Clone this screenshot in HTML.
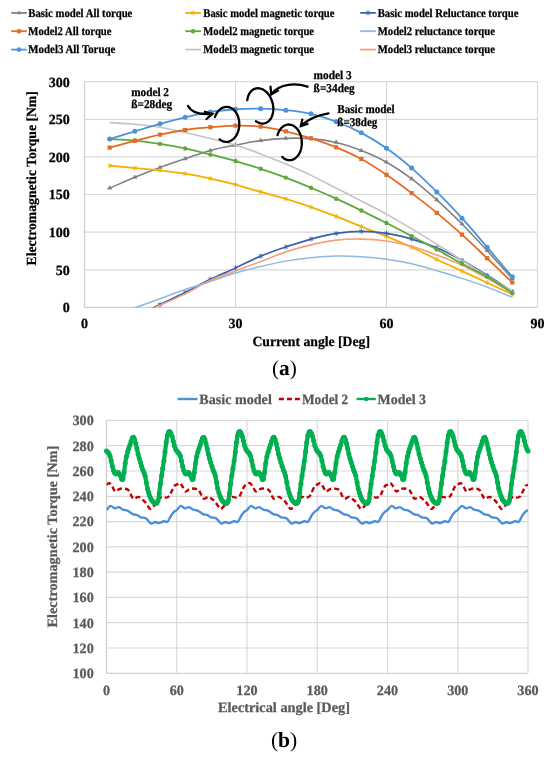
<!DOCTYPE html><html><head><meta charset="utf-8"><style>html,body{margin:0;padding:0;background:#fff;}svg{display:block}text{font-family:"Liberation Serif",serif;font-weight:bold;text-rendering:geometricPrecision;stroke-width:0.25px;}</style></head><body>
<svg width="550" height="761" viewBox="0 0 550 761">
<rect width="550" height="761" fill="#fff"/>
<defs><clipPath id="cpt"><rect x="84.5" y="81.7" width="453.0" height="225.7"/></clipPath>
<clipPath id="cpb"><rect x="106.5" y="420.4" width="421.5" height="252.9"/></clipPath></defs>
<g stroke="#d9d9d9" stroke-width="1.2"><line x1="84.5" y1="269.8" x2="537.5" y2="269.8"/><line x1="84.5" y1="232.2" x2="537.5" y2="232.2"/><line x1="84.5" y1="194.5" x2="537.5" y2="194.5"/><line x1="84.5" y1="156.9" x2="537.5" y2="156.9"/><line x1="84.5" y1="119.3" x2="537.5" y2="119.3"/><line x1="84.5" y1="81.7" x2="537.5" y2="81.7"/><line x1="235.5" y1="81.7" x2="235.5" y2="307.4"/><line x1="386.5" y1="81.7" x2="386.5" y2="307.4"/><line x1="537.5" y1="81.7" x2="537.5" y2="307.4"/></g>
<g stroke="#d0d0d0" stroke-width="1.3"><line x1="84.5" y1="81.7" x2="84.5" y2="307.4"/><line x1="84.5" y1="307.4" x2="537.5" y2="307.4"/></g>
<g><path d="M109.67,188.16 C113.86,186.34 126.44,180.69 134.83,177.25 C143.22,173.80 151.61,170.55 160.00,167.47 C168.39,164.38 176.78,161.57 185.17,158.74 C193.56,155.91 201.94,152.73 210.33,150.46 C218.72,148.19 227.11,146.76 235.50,145.12 C243.89,143.48 252.28,141.74 260.67,140.61 C269.06,139.48 277.44,138.68 285.83,138.35 C294.22,138.02 302.61,137.97 311.00,138.65 C319.39,139.33 327.78,140.43 336.17,142.41 C344.56,144.39 352.94,147.24 361.33,150.54 C369.72,153.84 378.11,157.49 386.50,162.20 C394.89,166.91 403.28,172.56 411.67,178.83 C420.06,185.10 428.44,192.29 436.83,199.82 C445.22,207.34 453.61,215.49 462.00,223.97 C470.39,232.44 478.78,241.56 487.17,250.67 C495.56,259.79 508.14,274.00 512.33,278.66" fill="none" stroke="#818181" stroke-width="1.60" stroke-linejoin="round" clip-path="url(#cpt)"/><path d="M109.67,185.36 l2.6,4.2 h-5.2z" fill="#818181"/><path d="M134.83,174.45 l2.6,4.2 h-5.2z" fill="#818181"/><path d="M160.00,164.67 l2.6,4.2 h-5.2z" fill="#818181"/><path d="M185.17,155.94 l2.6,4.2 h-5.2z" fill="#818181"/><path d="M210.33,147.66 l2.6,4.2 h-5.2z" fill="#818181"/><path d="M235.50,142.32 l2.6,4.2 h-5.2z" fill="#818181"/><path d="M260.67,137.81 l2.6,4.2 h-5.2z" fill="#818181"/><path d="M285.83,135.55 l2.6,4.2 h-5.2z" fill="#818181"/><path d="M311.00,135.85 l2.6,4.2 h-5.2z" fill="#818181"/><path d="M336.17,139.61 l2.6,4.2 h-5.2z" fill="#818181"/><path d="M361.33,147.74 l2.6,4.2 h-5.2z" fill="#818181"/><path d="M386.50,159.40 l2.6,4.2 h-5.2z" fill="#818181"/><path d="M411.67,176.03 l2.6,4.2 h-5.2z" fill="#818181"/><path d="M436.83,197.02 l2.6,4.2 h-5.2z" fill="#818181"/><path d="M462.00,221.17 l2.6,4.2 h-5.2z" fill="#818181"/><path d="M487.17,247.87 l2.6,4.2 h-5.2z" fill="#818181"/><path d="M512.33,275.86 l2.6,4.2 h-5.2z" fill="#818181"/><path d="M109.67,165.74 C113.86,166.12 126.44,167.30 134.83,168.07 C143.22,168.83 151.61,169.38 160.00,170.32 C168.39,171.27 176.78,172.34 185.17,173.71 C193.56,175.08 201.94,176.72 210.33,178.53 C218.72,180.33 227.11,182.31 235.50,184.54 C243.89,186.78 252.28,189.53 260.67,191.92 C269.06,194.30 277.44,196.32 285.83,198.84 C294.22,201.36 302.61,204.12 311.00,207.04 C319.39,209.96 327.78,213.11 336.17,216.37 C344.56,219.63 352.94,223.28 361.33,226.60 C369.72,229.92 378.11,232.87 386.50,236.30 C394.89,239.74 403.28,243.35 411.67,247.21 C420.06,251.08 428.44,255.50 436.83,259.48 C445.22,263.45 453.61,267.19 462.00,271.06 C470.39,274.94 478.78,278.84 487.17,282.72 C495.56,286.61 508.14,292.44 512.33,294.38" fill="none" stroke="#f2b000" stroke-width="1.80" stroke-linejoin="round" clip-path="url(#cpt)"/><path d="M109.67,163.24 v5 M107.67,164.24 l4,3 M111.67,164.24 l-4,3" stroke="#f2b000" stroke-width="0.9" fill="none"/><path d="M134.83,165.57 v5 M132.83,166.57 l4,3 M136.83,166.57 l-4,3" stroke="#f2b000" stroke-width="0.9" fill="none"/><path d="M160.00,167.82 v5 M158.00,168.82 l4,3 M162.00,168.82 l-4,3" stroke="#f2b000" stroke-width="0.9" fill="none"/><path d="M185.17,171.21 v5 M183.17,172.21 l4,3 M187.17,172.21 l-4,3" stroke="#f2b000" stroke-width="0.9" fill="none"/><path d="M210.33,176.03 v5 M208.33,177.03 l4,3 M212.33,177.03 l-4,3" stroke="#f2b000" stroke-width="0.9" fill="none"/><path d="M235.50,182.04 v5 M233.50,183.04 l4,3 M237.50,183.04 l-4,3" stroke="#f2b000" stroke-width="0.9" fill="none"/><path d="M260.67,189.42 v5 M258.67,190.42 l4,3 M262.67,190.42 l-4,3" stroke="#f2b000" stroke-width="0.9" fill="none"/><path d="M285.83,196.34 v5 M283.83,197.34 l4,3 M287.83,197.34 l-4,3" stroke="#f2b000" stroke-width="0.9" fill="none"/><path d="M311.00,204.54 v5 M309.00,205.54 l4,3 M313.00,205.54 l-4,3" stroke="#f2b000" stroke-width="0.9" fill="none"/><path d="M336.17,213.87 v5 M334.17,214.87 l4,3 M338.17,214.87 l-4,3" stroke="#f2b000" stroke-width="0.9" fill="none"/><path d="M361.33,224.10 v5 M359.33,225.10 l4,3 M363.33,225.10 l-4,3" stroke="#f2b000" stroke-width="0.9" fill="none"/><path d="M386.50,233.80 v5 M384.50,234.80 l4,3 M388.50,234.80 l-4,3" stroke="#f2b000" stroke-width="0.9" fill="none"/><path d="M411.67,244.71 v5 M409.67,245.71 l4,3 M413.67,245.71 l-4,3" stroke="#f2b000" stroke-width="0.9" fill="none"/><path d="M436.83,256.98 v5 M434.83,257.98 l4,3 M438.83,257.98 l-4,3" stroke="#f2b000" stroke-width="0.9" fill="none"/><path d="M462.00,268.56 v5 M460.00,269.56 l4,3 M464.00,269.56 l-4,3" stroke="#f2b000" stroke-width="0.9" fill="none"/><path d="M487.17,280.22 v5 M485.17,281.22 l4,3 M489.17,281.22 l-4,3" stroke="#f2b000" stroke-width="0.9" fill="none"/><path d="M512.33,291.88 v5 M510.33,292.88 l4,3 M514.33,292.88 l-4,3" stroke="#f2b000" stroke-width="0.9" fill="none"/><path d="M109.67,329.82 C113.86,327.61 126.44,320.79 134.83,316.58 C143.22,312.37 151.61,308.57 160.00,304.54 C168.39,300.52 176.78,296.63 185.17,292.43 C193.56,288.23 201.94,283.41 210.33,279.34 C218.72,275.26 227.11,271.85 235.50,267.98 C243.89,264.10 252.28,259.60 260.67,256.09 C269.06,252.58 277.44,249.76 285.83,246.91 C294.22,244.07 302.61,241.26 311.00,239.01 C319.39,236.77 327.78,234.72 336.17,233.45 C344.56,232.17 352.94,231.36 361.33,231.34 C369.72,231.31 378.11,232.02 386.50,233.30 C394.89,234.57 403.28,236.61 411.67,239.01 C420.06,241.42 428.44,244.19 436.83,247.74 C445.22,251.29 453.61,255.70 462.00,260.30 C470.39,264.91 478.78,270.12 487.17,275.35 C495.56,280.58 508.14,288.96 512.33,291.68" fill="none" stroke="#3a62b0" stroke-width="1.80" stroke-linejoin="round" clip-path="url(#cpt)"/><path d="M160.00,302.04 v5 M158.00,303.04 l4,3 M162.00,303.04 l-4,3" stroke="#3a62b0" stroke-width="0.9" fill="none"/><path d="M185.17,289.93 v5 M183.17,290.93 l4,3 M187.17,290.93 l-4,3" stroke="#3a62b0" stroke-width="0.9" fill="none"/><path d="M210.33,276.84 v5 M208.33,277.84 l4,3 M212.33,277.84 l-4,3" stroke="#3a62b0" stroke-width="0.9" fill="none"/><path d="M235.50,265.48 v5 M233.50,266.48 l4,3 M237.50,266.48 l-4,3" stroke="#3a62b0" stroke-width="0.9" fill="none"/><path d="M260.67,253.59 v5 M258.67,254.59 l4,3 M262.67,254.59 l-4,3" stroke="#3a62b0" stroke-width="0.9" fill="none"/><path d="M285.83,244.41 v5 M283.83,245.41 l4,3 M287.83,245.41 l-4,3" stroke="#3a62b0" stroke-width="0.9" fill="none"/><path d="M311.00,236.51 v5 M309.00,237.51 l4,3 M313.00,237.51 l-4,3" stroke="#3a62b0" stroke-width="0.9" fill="none"/><path d="M336.17,230.95 v5 M334.17,231.95 l4,3 M338.17,231.95 l-4,3" stroke="#3a62b0" stroke-width="0.9" fill="none"/><path d="M361.33,228.84 v5 M359.33,229.84 l4,3 M363.33,229.84 l-4,3" stroke="#3a62b0" stroke-width="0.9" fill="none"/><path d="M386.50,230.80 v5 M384.50,231.80 l4,3 M388.50,231.80 l-4,3" stroke="#3a62b0" stroke-width="0.9" fill="none"/><path d="M411.67,236.51 v5 M409.67,237.51 l4,3 M413.67,237.51 l-4,3" stroke="#3a62b0" stroke-width="0.9" fill="none"/><path d="M436.83,245.24 v5 M434.83,246.24 l4,3 M438.83,246.24 l-4,3" stroke="#3a62b0" stroke-width="0.9" fill="none"/><path d="M462.00,257.80 v5 M460.00,258.80 l4,3 M464.00,258.80 l-4,3" stroke="#3a62b0" stroke-width="0.9" fill="none"/><path d="M487.17,272.85 v5 M485.17,273.85 l4,3 M489.17,273.85 l-4,3" stroke="#3a62b0" stroke-width="0.9" fill="none"/><path d="M512.33,289.18 v5 M510.33,290.18 l4,3 M514.33,290.18 l-4,3" stroke="#3a62b0" stroke-width="0.9" fill="none"/><path d="M109.67,315.90 C113.86,314.53 126.44,310.56 134.83,307.70 C143.22,304.84 151.61,301.78 160.00,298.75 C168.39,295.71 176.78,292.37 185.17,289.49 C193.56,286.62 201.94,284.25 210.33,281.52 C218.72,278.79 227.11,275.61 235.50,273.09 C243.89,270.57 252.28,268.39 260.67,266.40 C269.06,264.40 277.44,262.57 285.83,261.13 C294.22,259.69 302.61,258.59 311.00,257.75 C319.39,256.91 327.78,256.25 336.17,256.09 C344.56,255.93 352.94,256.24 361.33,256.77 C369.72,257.29 378.11,258.08 386.50,259.25 C394.89,260.42 403.28,261.86 411.67,263.76 C420.06,265.67 428.44,268.25 436.83,270.69 C445.22,273.12 453.61,275.63 462.00,278.36 C470.39,281.09 478.78,283.93 487.17,287.09 C495.56,290.25 508.14,295.61 512.33,297.32" fill="none" stroke="#8db8e6" stroke-width="1.50" stroke-linejoin="round" clip-path="url(#cpt)"/><path d="M109.67,323.95 C113.86,322.40 126.44,317.76 134.83,314.62 C143.22,311.49 151.61,308.60 160.00,305.14 C168.39,301.68 176.78,297.98 185.17,293.86 C193.56,289.73 201.94,284.22 210.33,280.39 C218.72,276.57 227.11,274.06 235.50,270.91 C243.89,267.76 252.28,264.68 260.67,261.51 C269.06,258.34 277.44,254.65 285.83,251.88 C294.22,249.11 302.61,246.84 311.00,244.88 C319.39,242.93 327.78,241.11 336.17,240.14 C344.56,239.18 352.94,238.95 361.33,239.09 C369.72,239.23 378.11,239.75 386.50,240.97 C394.89,242.19 403.28,244.03 411.67,246.39 C420.06,248.74 428.44,251.97 436.83,255.11 C445.22,258.26 453.61,261.39 462.00,265.27 C470.39,269.14 478.78,273.76 487.17,278.36 C495.56,282.96 508.14,290.46 512.33,292.88" fill="none" stroke="#f4a07a" stroke-width="1.60" stroke-linejoin="round" clip-path="url(#cpt)"/><path d="M109.67,122.63 C113.86,122.90 126.44,123.50 134.83,124.28 C143.22,125.06 151.61,125.92 160.00,127.29 C168.39,128.66 176.78,130.61 185.17,132.48 C193.56,134.35 201.94,136.41 210.33,138.50 C218.72,140.60 227.11,142.48 235.50,145.05 C243.89,147.62 252.28,150.75 260.67,153.92 C269.06,157.10 277.44,160.51 285.83,164.08 C294.22,167.65 302.61,171.35 311.00,175.37 C319.39,179.38 327.78,183.89 336.17,188.16 C344.56,192.42 352.94,196.62 361.33,200.94 C369.72,205.27 378.11,209.45 386.50,214.11 C394.89,218.78 403.28,223.92 411.67,228.93 C420.06,233.95 428.44,238.98 436.83,244.20 C445.22,249.43 453.61,254.96 462.00,260.30 C470.39,265.65 478.78,271.07 487.17,276.25 C495.56,281.43 508.14,288.85 512.33,291.38" fill="none" stroke="#c3c3c3" stroke-width="1.60" stroke-linejoin="round" clip-path="url(#cpt)"/><path d="M109.67,139.10 C113.86,139.34 126.44,139.73 134.83,140.53 C143.22,141.33 151.61,142.60 160.00,143.92 C168.39,145.23 176.78,146.68 185.17,148.43 C193.56,150.19 201.94,152.34 210.33,154.45 C218.72,156.56 227.11,158.68 235.50,161.07 C243.89,163.47 252.28,166.06 260.67,168.82 C269.06,171.58 277.44,174.46 285.83,177.62 C294.22,180.78 302.61,184.27 311.00,187.78 C319.39,191.29 327.78,194.89 336.17,198.69 C344.56,202.49 352.94,206.51 361.33,210.57 C369.72,214.64 378.11,218.80 386.50,223.06 C394.89,227.33 403.28,231.74 411.67,236.15 C420.06,240.57 428.44,244.94 436.83,249.55 C445.22,254.15 453.61,259.21 462.00,263.76 C470.39,268.32 478.78,272.00 487.17,276.86 C495.56,281.71 508.14,290.21 512.33,292.88" fill="none" stroke="#5fa83c" stroke-width="1.80" stroke-linejoin="round" clip-path="url(#cpt)"/><circle cx="109.67" cy="139.10" r="2.2" fill="#5fa83c"/><circle cx="134.83" cy="140.53" r="2.2" fill="#5fa83c"/><circle cx="160.00" cy="143.92" r="2.2" fill="#5fa83c"/><circle cx="185.17" cy="148.43" r="2.2" fill="#5fa83c"/><circle cx="210.33" cy="154.45" r="2.2" fill="#5fa83c"/><circle cx="235.50" cy="161.07" r="2.2" fill="#5fa83c"/><circle cx="260.67" cy="168.82" r="2.2" fill="#5fa83c"/><circle cx="285.83" cy="177.62" r="2.2" fill="#5fa83c"/><circle cx="311.00" cy="187.78" r="2.2" fill="#5fa83c"/><circle cx="336.17" cy="198.69" r="2.2" fill="#5fa83c"/><circle cx="361.33" cy="210.57" r="2.2" fill="#5fa83c"/><circle cx="386.50" cy="223.06" r="2.2" fill="#5fa83c"/><circle cx="411.67" cy="236.15" r="2.2" fill="#5fa83c"/><circle cx="436.83" cy="249.55" r="2.2" fill="#5fa83c"/><circle cx="462.00" cy="263.76" r="2.2" fill="#5fa83c"/><circle cx="487.17" cy="276.86" r="2.2" fill="#5fa83c"/><circle cx="512.33" cy="292.88" r="2.2" fill="#5fa83c"/><path d="M109.67,147.60 C113.86,146.48 126.44,143.00 134.83,140.83 C143.22,138.66 151.61,136.39 160.00,134.59 C168.39,132.78 176.78,131.23 185.17,130.00 C193.56,128.77 201.94,127.94 210.33,127.22 C218.72,126.49 227.11,125.74 235.50,125.64 C243.89,125.54 252.28,125.66 260.67,126.61 C269.06,127.57 277.44,129.40 285.83,131.35 C294.22,133.31 302.61,135.69 311.00,138.35 C319.39,141.01 327.78,143.87 336.17,147.30 C344.56,150.74 352.94,154.38 361.33,158.96 C369.72,163.55 378.11,169.15 386.50,174.84 C394.89,180.53 403.28,186.79 411.67,193.12 C420.06,199.45 428.44,205.91 436.83,212.83 C445.22,219.75 453.61,227.08 462.00,234.65 C470.39,242.22 478.78,250.30 487.17,258.27 C495.56,266.25 508.14,278.46 512.33,282.50" fill="none" stroke="#e56b25" stroke-width="1.80" stroke-linejoin="round" clip-path="url(#cpt)"/><rect x="107.57" y="145.50" width="4.2" height="4.2" fill="#e56b25"/><rect x="132.73" y="138.73" width="4.2" height="4.2" fill="#e56b25"/><rect x="157.90" y="132.49" width="4.2" height="4.2" fill="#e56b25"/><rect x="183.07" y="127.90" width="4.2" height="4.2" fill="#e56b25"/><rect x="208.23" y="125.12" width="4.2" height="4.2" fill="#e56b25"/><rect x="233.40" y="123.54" width="4.2" height="4.2" fill="#e56b25"/><rect x="258.57" y="124.51" width="4.2" height="4.2" fill="#e56b25"/><rect x="283.73" y="129.25" width="4.2" height="4.2" fill="#e56b25"/><rect x="308.90" y="136.25" width="4.2" height="4.2" fill="#e56b25"/><rect x="334.07" y="145.20" width="4.2" height="4.2" fill="#e56b25"/><rect x="359.23" y="156.86" width="4.2" height="4.2" fill="#e56b25"/><rect x="384.40" y="172.74" width="4.2" height="4.2" fill="#e56b25"/><rect x="409.57" y="191.02" width="4.2" height="4.2" fill="#e56b25"/><rect x="434.73" y="210.73" width="4.2" height="4.2" fill="#e56b25"/><rect x="459.90" y="232.55" width="4.2" height="4.2" fill="#e56b25"/><rect x="485.07" y="256.17" width="4.2" height="4.2" fill="#e56b25"/><rect x="510.23" y="280.40" width="4.2" height="4.2" fill="#e56b25"/><path d="M109.67,139.10 C113.86,137.81 126.44,133.90 134.83,131.35 C143.22,128.81 151.61,126.18 160.00,123.83 C168.39,121.49 176.78,119.27 185.17,117.29 C193.56,115.30 201.94,113.29 210.33,111.94 C218.72,110.60 227.11,109.79 235.50,109.24 C243.89,108.68 252.28,108.48 260.67,108.63 C269.06,108.78 277.44,109.27 285.83,110.14 C294.22,111.00 302.61,111.89 311.00,113.82 C319.39,115.76 327.78,118.55 336.17,121.72 C344.56,124.90 352.94,128.44 361.33,132.86 C369.72,137.27 378.11,142.34 386.50,148.21 C394.89,154.07 403.28,160.78 411.67,168.07 C420.06,175.35 428.44,183.57 436.83,191.92 C445.22,200.27 453.61,208.96 462.00,218.17 C470.39,227.39 478.78,237.43 487.17,247.21 C495.56,256.99 508.14,271.91 512.33,276.86" fill="none" stroke="#4d93dc" stroke-width="1.80" stroke-linejoin="round" clip-path="url(#cpt)"/><circle cx="109.67" cy="139.10" r="2.5" fill="#4d93dc"/><circle cx="134.83" cy="131.35" r="2.5" fill="#4d93dc"/><circle cx="160.00" cy="123.83" r="2.5" fill="#4d93dc"/><circle cx="185.17" cy="117.29" r="2.5" fill="#4d93dc"/><circle cx="210.33" cy="111.94" r="2.5" fill="#4d93dc"/><circle cx="235.50" cy="109.24" r="2.5" fill="#4d93dc"/><circle cx="260.67" cy="108.63" r="2.5" fill="#4d93dc"/><circle cx="285.83" cy="110.14" r="2.5" fill="#4d93dc"/><circle cx="311.00" cy="113.82" r="2.5" fill="#4d93dc"/><circle cx="336.17" cy="121.72" r="2.5" fill="#4d93dc"/><circle cx="361.33" cy="132.86" r="2.5" fill="#4d93dc"/><circle cx="386.50" cy="148.21" r="2.5" fill="#4d93dc"/><circle cx="411.67" cy="168.07" r="2.5" fill="#4d93dc"/><circle cx="436.83" cy="191.92" r="2.5" fill="#4d93dc"/><circle cx="462.00" cy="218.17" r="2.5" fill="#4d93dc"/><circle cx="487.17" cy="247.21" r="2.5" fill="#4d93dc"/><circle cx="512.33" cy="276.86" r="2.5" fill="#4d93dc"/></g>
<g fill="none" stroke="#000" stroke-width="2.3" stroke-linecap="round"><path d="M214.90,117.11 L215.51,115.54 L216.23,114.07 L217.06,112.70 L217.98,111.44 L218.99,110.32 L220.08,109.34 L221.23,108.51 L222.43,107.85 L223.67,107.35 L224.94,107.02 L226.23,106.87 L227.52,106.90 L228.80,107.10 L230.06,107.48 L231.28,108.04 L232.45,108.75 L233.56,109.63 L234.60,110.65 L235.56,111.82 L236.42,113.11 L237.19,114.51 L237.84,116.02 L238.38,117.61 L238.80,119.27 L239.10,120.98 L239.26,122.72 L239.30,124.48 L239.21,126.24 L238.99,127.99 L238.64,129.69 L238.17,131.34 L237.58,132.92 L236.87,134.42 L236.07,135.81 L235.16,137.09 L234.17,138.24 L233.10,139.24 L231.96,140.10 L230.77,140.80 L229.53,141.33 L228.26,141.69 L226.97,141.87 L225.68,141.88 L224.40,141.71 L223.14,141.36 L221.91,140.84 L220.73,140.16 L219.61,139.31"/><path d="M247.30,100.03 L247.58,98.36 L247.99,96.77 L248.53,95.28 L249.19,93.90 L249.96,92.64 L250.84,91.52 L251.82,90.54 L252.88,89.73 L254.02,89.08 L255.22,88.61 L256.48,88.31 L257.77,88.20 L259.09,88.27 L260.42,88.52 L261.75,88.95 L263.07,89.56 L264.35,90.33 L265.59,91.27 L266.78,92.36 L267.90,93.59 L268.94,94.94 L269.89,96.41 L270.73,97.98 L271.47,99.62 L272.10,101.34 L272.60,103.10 L272.97,104.89 L273.21,106.68 L273.32,108.47 L273.29,110.24 L273.12,111.96 L272.83,113.61 L272.40,115.19 L271.84,116.66 L271.17,118.03 L270.38,119.27 L269.49,120.37 L268.50,121.32 L267.42,122.12 L266.27,122.74 L265.06,123.19 L263.80,123.46 L262.50,123.54 L261.18,123.45 L259.85,123.17 L258.52,122.71 L257.21,122.08 L255.93,121.28"/><path d="M277.50,135.11 L278.04,133.48 L278.71,131.94 L279.48,130.51 L280.35,129.21 L281.32,128.04 L282.37,127.03 L283.49,126.17 L284.67,125.48 L285.90,124.97 L287.16,124.65 L288.45,124.51 L289.74,124.55 L291.02,124.78 L292.29,125.20 L293.53,125.79 L294.71,126.56 L295.84,127.49 L296.91,128.58 L297.89,129.82 L298.78,131.18 L299.56,132.66 L300.25,134.25 L300.81,135.92 L301.25,137.65 L301.57,139.44 L301.76,141.25 L301.81,143.08 L301.74,144.90 L301.53,146.69 L301.19,148.44 L300.73,150.12 L300.15,151.73 L299.45,153.23 L298.64,154.62 L297.74,155.89 L296.74,157.01 L295.67,157.97 L294.53,158.78 L293.33,159.41 L292.09,159.87 L290.82,160.14 L289.54,160.22 L288.24,160.12 L286.96,159.83 L285.71,159.36 L284.48,158.71 L283.31,157.89 L282.20,156.91"/><path d="M187.9,105.9 C191,111.5 198,115.2 212,113.9"/><path d="M205,111.8 L212.3,113.9 L206.5,119"/><path d="M307.6,86.7 C296,83 280,83 271.4,94.1"/><path d="M270.5,86.6 L271.3,94.3 L278,90.6"/><path d="M328.5,113.3 C318,115 309,118 300.9,126"/><path d="M302.3,119.6 L300.9,126.1 L307.5,123.8"/></g>
<text x="131.2" y="95.6" font-size="12.0" fill="#000" stroke="#000" textLength="37.8" lengthAdjust="spacingAndGlyphs">model 2</text>
<text x="131.2" y="108.4" font-size="12.0" fill="#000" stroke="#000" textLength="41.0" lengthAdjust="spacingAndGlyphs">ß=28deg</text>
<text x="313.6" y="78.8" font-size="12.0" fill="#000" stroke="#000" textLength="38.2" lengthAdjust="spacingAndGlyphs">model 3</text>
<text x="313.6" y="91.8" font-size="12.0" fill="#000" stroke="#000" textLength="41.0" lengthAdjust="spacingAndGlyphs">ß=34deg</text>
<text x="337.3" y="112.7" font-size="12.0" fill="#000" stroke="#000" textLength="57.2" lengthAdjust="spacingAndGlyphs">Basic model</text>
<text x="337.3" y="125.8" font-size="12.0" fill="#000" stroke="#000" textLength="40.0" lengthAdjust="spacingAndGlyphs">ß=38deg</text>
<text x="69.8" y="312.2" font-size="14.0" fill="#000" stroke="#000" text-anchor="end">0</text>
<text x="69.8" y="274.6" font-size="14.0" fill="#000" stroke="#000" text-anchor="end">50</text>
<text x="69.8" y="237.0" font-size="14.0" fill="#000" stroke="#000" text-anchor="end">100</text>
<text x="69.8" y="199.3" font-size="14.0" fill="#000" stroke="#000" text-anchor="end">150</text>
<text x="69.8" y="161.7" font-size="14.0" fill="#000" stroke="#000" text-anchor="end">200</text>
<text x="69.8" y="124.1" font-size="14.0" fill="#000" stroke="#000" text-anchor="end">250</text>
<text x="69.8" y="86.5" font-size="14.0" fill="#000" stroke="#000" text-anchor="end">300</text>
<text x="84.5" y="328.3" font-size="14.0" fill="#000" stroke="#000" text-anchor="middle">0</text>
<text x="235.5" y="328.3" font-size="14.0" fill="#000" stroke="#000" text-anchor="middle">30</text>
<text x="386.5" y="328.3" font-size="14.0" fill="#000" stroke="#000" text-anchor="middle">60</text>
<text x="537.5" y="328.3" font-size="14.0" fill="#000" stroke="#000" text-anchor="middle">90</text>
<text x="311.2" y="346.0" font-size="14.0" fill="#000" stroke="#000" text-anchor="middle" textLength="117.6" lengthAdjust="spacingAndGlyphs">Current angle [Deg]</text>
<text transform="translate(36.3,178.35) rotate(-90)" stroke="#000" font-size="13.9" text-anchor="middle" textLength="174.3" lengthAdjust="spacingAndGlyphs">Electromagnetic Torque [Nm]</text>
<line x1="11.2" y1="12.9" x2="26.8" y2="12.9" stroke="#818181" stroke-width="1.8"/>
<path d="M19.00,10.40 l2.3,3.8 h-4.6z" fill="#818181"/>
<text x="28.3" y="16.5" font-size="11.9" fill="#000" stroke="#000" textLength="104.1" lengthAdjust="spacingAndGlyphs">Basic model All torque</text>
<line x1="11.2" y1="31.2" x2="26.8" y2="31.2" stroke="#e56b25" stroke-width="1.8"/>
<rect x="17.00" y="29.20" width="4" height="4" fill="#e56b25"/>
<text x="28.3" y="34.7" font-size="11.9" fill="#000" stroke="#000" textLength="83.3" lengthAdjust="spacingAndGlyphs">Model2 All torque</text>
<line x1="11.2" y1="49.6" x2="26.8" y2="49.6" stroke="#4d93dc" stroke-width="1.8"/>
<circle cx="19.00" cy="49.60" r="2.3" fill="#4d93dc"/>
<text x="28.3" y="52.8" font-size="11.9" fill="#000" stroke="#000" textLength="87.1" lengthAdjust="spacingAndGlyphs">Model3 All Toruqe</text>
<line x1="185.3" y1="12.9" x2="200.9" y2="12.9" stroke="#f2b000" stroke-width="1.8"/>
<path d="M193.10,10.40 v5 M191.10,11.40 l4,3 M195.10,11.40 l-4,3" stroke="#f2b000" stroke-width="0.9" fill="none"/>
<text x="203.3" y="16.5" font-size="11.9" fill="#000" stroke="#000" textLength="131.2" lengthAdjust="spacingAndGlyphs">Basic model magnetic torque</text>
<line x1="185.3" y1="31.2" x2="200.9" y2="31.2" stroke="#5fa83c" stroke-width="1.8"/>
<circle cx="193.10" cy="31.20" r="2.3" fill="#5fa83c"/>
<text x="203.3" y="34.7" font-size="11.9" fill="#000" stroke="#000" textLength="110.7" lengthAdjust="spacingAndGlyphs">Model2 magnetic torque</text>
<line x1="185.3" y1="49.6" x2="200.9" y2="49.6" stroke="#c3c3c3" stroke-width="1.8"/>
<text x="203.3" y="52.8" font-size="11.9" fill="#000" stroke="#000" textLength="110.7" lengthAdjust="spacingAndGlyphs">Model3 magnetic torque</text>
<line x1="360.2" y1="12.9" x2="375.8" y2="12.9" stroke="#3a62b0" stroke-width="1.8"/>
<path d="M368.00,10.40 v5 M366.00,11.40 l4,3 M370.00,11.40 l-4,3" stroke="#3a62b0" stroke-width="0.9" fill="none"/>
<text x="377.7" y="16.5" font-size="11.9" fill="#000" stroke="#000" textLength="140.7" lengthAdjust="spacingAndGlyphs">Basic model Reluctance torque</text>
<line x1="360.2" y1="31.2" x2="375.8" y2="31.2" stroke="#8db8e6" stroke-width="1.8"/>
<text x="377.7" y="34.7" font-size="11.9" fill="#000" stroke="#000" textLength="117.2" lengthAdjust="spacingAndGlyphs">Model2 reluctance torque</text>
<line x1="360.2" y1="49.6" x2="375.8" y2="49.6" stroke="#f4a07a" stroke-width="1.8"/>
<text x="377.7" y="52.8" font-size="11.9" fill="#000" stroke="#000" textLength="117.2" lengthAdjust="spacingAndGlyphs">Model3 reluctance torque</text>
<text x="284.3" y="374.8" font-size="21.3" text-anchor="middle" style="font-weight:normal"><tspan>(</tspan><tspan font-weight="bold">a</tspan><tspan>)</tspan></text>
<g stroke="#d9d9d9" stroke-width="1.2"><line x1="106.5" y1="648.0" x2="528.0" y2="648.0"/><line x1="106.5" y1="622.7" x2="528.0" y2="622.7"/><line x1="106.5" y1="597.4" x2="528.0" y2="597.4"/><line x1="106.5" y1="572.1" x2="528.0" y2="572.1"/><line x1="106.5" y1="546.8" x2="528.0" y2="546.8"/><line x1="106.5" y1="521.6" x2="528.0" y2="521.6"/><line x1="106.5" y1="496.3" x2="528.0" y2="496.3"/><line x1="106.5" y1="471.0" x2="528.0" y2="471.0"/><line x1="106.5" y1="445.7" x2="528.0" y2="445.7"/><line x1="106.5" y1="420.4" x2="528.0" y2="420.4"/><line x1="176.8" y1="420.4" x2="176.8" y2="673.3"/><line x1="247.0" y1="420.4" x2="247.0" y2="673.3"/><line x1="317.2" y1="420.4" x2="317.2" y2="673.3"/><line x1="387.5" y1="420.4" x2="387.5" y2="673.3"/><line x1="457.8" y1="420.4" x2="457.8" y2="673.3"/><line x1="528.0" y1="420.4" x2="528.0" y2="673.3"/></g>
<g stroke="#d0d0d0" stroke-width="1.3"><line x1="106.5" y1="420.4" x2="106.5" y2="673.3"/><line x1="106.5" y1="673.3" x2="528.0" y2="673.3"/></g>
<path d="M106.50,510.05 C107.18,509.36 109.23,506.15 110.60,505.88 C111.96,505.61 113.33,508.20 114.70,508.41 C116.06,508.62 117.43,506.93 118.79,507.14 C120.16,507.36 121.39,509.06 122.89,509.67 C124.39,510.28 126.17,510.07 127.81,510.81 C129.45,511.55 131.22,513.40 132.73,514.10 C134.23,514.79 135.46,514.44 136.82,514.98 C138.19,515.53 139.42,516.84 140.92,517.39 C142.43,517.94 144.20,517.28 145.84,518.27 C147.48,519.26 149.18,522.70 150.76,523.33 C152.34,523.96 153.96,522.11 155.32,522.07 C156.69,522.02 157.51,523.20 158.95,523.08 C160.40,522.95 162.54,521.54 163.99,521.31 C165.43,521.08 166.39,522.72 167.62,521.69 C168.85,520.65 170.25,516.80 171.36,515.11 C172.48,513.43 173.39,512.41 174.29,511.57 C175.19,510.73 175.66,511.00 176.75,510.05 C177.84,509.10 179.48,506.15 180.85,505.88 C182.21,505.61 183.58,508.20 184.95,508.41 C186.31,508.62 187.68,506.93 189.04,507.14 C190.41,507.36 191.64,509.06 193.14,509.67 C194.64,510.28 196.42,510.07 198.06,510.81 C199.70,511.55 201.47,513.40 202.98,514.10 C204.48,514.79 205.71,514.44 207.07,514.98 C208.44,515.53 209.67,516.84 211.17,517.39 C212.68,517.94 214.45,517.28 216.09,518.27 C217.73,519.26 219.43,522.70 221.01,523.33 C222.59,523.96 224.21,522.11 225.57,522.07 C226.94,522.02 227.76,523.20 229.20,523.08 C230.65,522.95 232.79,521.54 234.24,521.31 C235.68,521.08 236.64,522.72 237.87,521.69 C239.10,520.65 240.50,516.80 241.61,515.11 C242.73,513.43 243.64,512.41 244.54,511.57 C245.44,510.73 245.91,511.00 247.00,510.05 C248.09,509.10 249.73,506.15 251.10,505.88 C252.46,505.61 253.83,508.20 255.20,508.41 C256.56,508.62 257.93,506.93 259.29,507.14 C260.66,507.36 261.89,509.06 263.39,509.67 C264.89,510.28 266.67,510.07 268.31,510.81 C269.95,511.55 271.72,513.40 273.23,514.10 C274.73,514.79 275.96,514.44 277.32,514.98 C278.69,515.53 279.92,516.84 281.42,517.39 C282.93,517.94 284.70,517.28 286.34,518.27 C287.98,519.26 289.68,522.70 291.26,523.33 C292.84,523.96 294.46,522.11 295.82,522.07 C297.19,522.02 298.01,523.20 299.45,523.08 C300.90,522.95 303.04,521.54 304.49,521.31 C305.93,521.08 306.89,522.72 308.12,521.69 C309.35,520.65 310.75,516.80 311.86,515.11 C312.98,513.43 313.89,512.41 314.79,511.57 C315.69,510.73 316.16,511.00 317.25,510.05 C318.34,509.10 319.98,506.15 321.35,505.88 C322.71,505.61 324.08,508.20 325.45,508.41 C326.81,508.62 328.18,506.93 329.54,507.14 C330.91,507.36 332.14,509.06 333.64,509.67 C335.14,510.28 336.92,510.07 338.56,510.81 C340.20,511.55 341.97,513.40 343.48,514.10 C344.98,514.79 346.21,514.44 347.57,514.98 C348.94,515.53 350.17,516.84 351.67,517.39 C353.18,517.94 354.95,517.28 356.59,518.27 C358.23,519.26 359.93,522.70 361.51,523.33 C363.09,523.96 364.71,522.11 366.07,522.07 C367.44,522.02 368.26,523.20 369.70,523.08 C371.15,522.95 373.29,521.54 374.74,521.31 C376.18,521.08 377.14,522.72 378.37,521.69 C379.60,520.65 381.00,516.80 382.11,515.11 C383.23,513.43 384.14,512.41 385.04,511.57 C385.94,510.73 386.41,511.00 387.50,510.05 C388.59,509.10 390.23,506.15 391.60,505.88 C392.96,505.61 394.33,508.20 395.70,508.41 C397.06,508.62 398.43,506.93 399.79,507.14 C401.16,507.36 402.39,509.06 403.89,509.67 C405.39,510.28 407.17,510.07 408.81,510.81 C410.45,511.55 412.22,513.40 413.73,514.10 C415.23,514.79 416.46,514.44 417.82,514.98 C419.19,515.53 420.42,516.84 421.92,517.39 C423.43,517.94 425.20,517.28 426.84,518.27 C428.48,519.26 430.18,522.70 431.76,523.33 C433.34,523.96 434.96,522.11 436.32,522.07 C437.69,522.02 438.51,523.20 439.95,523.08 C441.40,522.95 443.54,521.54 444.99,521.31 C446.43,521.08 447.39,522.72 448.62,521.69 C449.85,520.65 451.25,516.80 452.36,515.11 C453.48,513.43 454.39,512.41 455.29,511.57 C456.19,510.73 456.66,511.00 457.75,510.05 C458.84,509.10 460.48,506.15 461.85,505.88 C463.21,505.61 464.58,508.20 465.95,508.41 C467.31,508.62 468.68,506.93 470.04,507.14 C471.41,507.36 472.64,509.06 474.14,509.67 C475.64,510.28 477.42,510.07 479.06,510.81 C480.70,511.55 482.47,513.40 483.98,514.10 C485.48,514.79 486.71,514.44 488.07,514.98 C489.44,515.53 490.67,516.84 492.17,517.39 C493.68,517.94 495.45,517.28 497.09,518.27 C498.73,519.26 500.43,522.70 502.01,523.33 C503.59,523.96 505.21,522.11 506.57,522.07 C507.94,522.02 508.76,523.20 510.20,523.08 C511.65,522.95 513.79,521.54 515.24,521.31 C516.68,521.08 517.64,522.72 518.87,521.69 C520.10,520.65 521.50,516.80 522.61,515.11 C523.73,513.43 524.64,512.41 525.54,511.57 C526.44,510.73 527.59,510.31 528.00,510.05" fill="none" stroke="#4a8fd8" stroke-width="2.4" stroke-linejoin="round" clip-path="url(#cpb)"/>
<path d="M106.50,484.64 C106.99,484.38 108.45,482.76 109.43,483.12 C110.40,483.48 111.38,485.40 112.35,486.79 C113.33,488.18 114.21,491.04 115.28,491.46 C116.35,491.89 117.64,489.80 118.79,489.32 C119.95,488.83 120.76,488.56 122.19,488.56 C123.61,488.56 126.11,488.77 127.34,489.32 C128.57,489.86 128.84,490.69 129.57,491.84 C130.29,493.00 130.97,495.11 131.67,496.27 C132.38,497.43 132.69,498.69 133.78,498.80 C134.87,498.90 136.88,496.84 138.23,496.90 C139.58,496.97 140.82,498.44 141.86,499.18 C142.89,499.92 143.52,500.30 144.44,501.33 C145.35,502.36 146.41,504.11 147.36,505.37 C148.32,506.64 149.22,508.68 150.17,508.91 C151.13,509.15 152.18,507.67 153.10,506.77 C154.02,505.86 154.76,504.70 155.68,503.48 C156.59,502.26 157.57,500.53 158.60,499.43 C159.64,498.34 160.73,497.20 161.88,496.90 C163.03,496.61 164.30,497.77 165.51,497.66 C166.72,497.56 168.16,497.24 169.14,496.27 C170.12,495.30 170.51,493.55 171.36,491.84 C172.22,490.14 173.39,487.23 174.29,486.03 C175.19,484.83 175.85,485.12 176.75,484.64 C177.65,484.15 178.70,482.76 179.68,483.12 C180.65,483.48 181.63,485.40 182.60,486.79 C183.58,488.18 184.46,491.04 185.53,491.46 C186.60,491.89 187.89,489.80 189.04,489.32 C190.20,488.83 191.01,488.56 192.44,488.56 C193.86,488.56 196.36,488.77 197.59,489.32 C198.82,489.86 199.09,490.69 199.82,491.84 C200.54,493.00 201.22,495.11 201.92,496.27 C202.63,497.43 202.94,498.69 204.03,498.80 C205.12,498.90 207.13,496.84 208.48,496.90 C209.83,496.97 211.07,498.44 212.11,499.18 C213.14,499.92 213.77,500.30 214.69,501.33 C215.60,502.36 216.66,504.11 217.61,505.37 C218.57,506.64 219.47,508.68 220.42,508.91 C221.38,509.15 222.43,507.67 223.35,506.77 C224.27,505.86 225.01,504.70 225.93,503.48 C226.84,502.26 227.82,500.53 228.85,499.43 C229.89,498.34 230.98,497.20 232.13,496.90 C233.28,496.61 234.55,497.77 235.76,497.66 C236.97,497.56 238.41,497.24 239.39,496.27 C240.37,495.30 240.76,493.55 241.61,491.84 C242.47,490.14 243.64,487.23 244.54,486.03 C245.44,484.83 246.10,485.12 247.00,484.64 C247.90,484.15 248.95,482.76 249.93,483.12 C250.90,483.48 251.88,485.40 252.85,486.79 C253.83,488.18 254.71,491.04 255.78,491.46 C256.85,491.89 258.14,489.80 259.29,489.32 C260.45,488.83 261.26,488.56 262.69,488.56 C264.11,488.56 266.61,488.77 267.84,489.32 C269.07,489.86 269.34,490.69 270.07,491.84 C270.79,493.00 271.47,495.11 272.17,496.27 C272.88,497.43 273.19,498.69 274.28,498.80 C275.37,498.90 277.38,496.84 278.73,496.90 C280.08,496.97 281.32,498.44 282.36,499.18 C283.39,499.92 284.02,500.30 284.94,501.33 C285.85,502.36 286.91,504.11 287.86,505.37 C288.82,506.64 289.72,508.68 290.67,508.91 C291.63,509.15 292.68,507.67 293.60,506.77 C294.52,505.86 295.26,504.70 296.18,503.48 C297.09,502.26 298.07,500.53 299.10,499.43 C300.14,498.34 301.23,497.20 302.38,496.90 C303.53,496.61 304.80,497.77 306.01,497.66 C307.22,497.56 308.66,497.24 309.64,496.27 C310.62,495.30 311.01,493.55 311.86,491.84 C312.72,490.14 313.89,487.23 314.79,486.03 C315.69,484.83 316.35,485.12 317.25,484.64 C318.15,484.15 319.20,482.76 320.18,483.12 C321.15,483.48 322.13,485.40 323.10,486.79 C324.08,488.18 324.96,491.04 326.03,491.46 C327.10,491.89 328.39,489.80 329.54,489.32 C330.70,488.83 331.51,488.56 332.94,488.56 C334.36,488.56 336.86,488.77 338.09,489.32 C339.32,489.86 339.59,490.69 340.32,491.84 C341.04,493.00 341.72,495.11 342.42,496.27 C343.13,497.43 343.44,498.69 344.53,498.80 C345.62,498.90 347.63,496.84 348.98,496.90 C350.33,496.97 351.57,498.44 352.61,499.18 C353.64,499.92 354.27,500.30 355.19,501.33 C356.10,502.36 357.16,504.11 358.11,505.37 C359.07,506.64 359.97,508.68 360.92,508.91 C361.88,509.15 362.93,507.67 363.85,506.77 C364.77,505.86 365.51,504.70 366.43,503.48 C367.34,502.26 368.32,500.53 369.35,499.43 C370.39,498.34 371.48,497.20 372.63,496.90 C373.78,496.61 375.05,497.77 376.26,497.66 C377.47,497.56 378.91,497.24 379.89,496.27 C380.87,495.30 381.26,493.55 382.11,491.84 C382.97,490.14 384.14,487.23 385.04,486.03 C385.94,484.83 386.60,485.12 387.50,484.64 C388.40,484.15 389.45,482.76 390.43,483.12 C391.40,483.48 392.38,485.40 393.35,486.79 C394.33,488.18 395.21,491.04 396.28,491.46 C397.35,491.89 398.64,489.80 399.79,489.32 C400.95,488.83 401.76,488.56 403.19,488.56 C404.61,488.56 407.11,488.77 408.34,489.32 C409.57,489.86 409.84,490.69 410.57,491.84 C411.29,493.00 411.97,495.11 412.67,496.27 C413.38,497.43 413.69,498.69 414.78,498.80 C415.87,498.90 417.88,496.84 419.23,496.90 C420.58,496.97 421.82,498.44 422.86,499.18 C423.89,499.92 424.52,500.30 425.44,501.33 C426.35,502.36 427.41,504.11 428.36,505.37 C429.32,506.64 430.22,508.68 431.17,508.91 C432.13,509.15 433.18,507.67 434.10,506.77 C435.02,505.86 435.76,504.70 436.68,503.48 C437.59,502.26 438.57,500.53 439.60,499.43 C440.64,498.34 441.73,497.20 442.88,496.90 C444.03,496.61 445.30,497.77 446.51,497.66 C447.72,497.56 449.16,497.24 450.14,496.27 C451.12,495.30 451.51,493.55 452.36,491.84 C453.22,490.14 454.39,487.23 455.29,486.03 C456.19,484.83 456.85,485.12 457.75,484.64 C458.65,484.15 459.70,482.76 460.68,483.12 C461.65,483.48 462.63,485.40 463.60,486.79 C464.58,488.18 465.46,491.04 466.53,491.46 C467.60,491.89 468.89,489.80 470.04,489.32 C471.20,488.83 472.01,488.56 473.44,488.56 C474.86,488.56 477.36,488.77 478.59,489.32 C479.82,489.86 480.09,490.69 480.82,491.84 C481.54,493.00 482.22,495.11 482.92,496.27 C483.63,497.43 483.94,498.69 485.03,498.80 C486.12,498.90 488.13,496.84 489.48,496.90 C490.83,496.97 492.07,498.44 493.11,499.18 C494.14,499.92 494.77,500.30 495.68,501.33 C496.60,502.36 497.66,504.11 498.61,505.37 C499.57,506.64 500.47,508.68 501.42,508.91 C502.38,509.15 503.43,507.67 504.35,506.77 C505.27,505.86 506.01,504.70 506.93,503.48 C507.84,502.26 508.82,500.53 509.85,499.43 C510.89,498.34 511.98,497.20 513.13,496.90 C514.28,496.61 515.55,497.77 516.76,497.66 C517.97,497.56 519.41,497.24 520.39,496.27 C521.37,495.30 521.76,493.55 522.61,491.84 C523.47,490.14 524.64,487.23 525.54,486.03 C526.44,484.83 527.59,484.87 528.00,484.64" fill="none" stroke="#c00000" stroke-width="2.4" stroke-dasharray="5 3" stroke-linejoin="round" clip-path="url(#cpb)"/>
<path d="M106.50,451.13 C107.05,451.80 108.69,452.18 109.78,455.17 C110.87,458.17 112.10,465.94 113.06,469.08 C114.01,472.22 114.70,473.47 115.52,474.01 C116.33,474.56 117.14,472.03 117.97,472.37 C118.81,472.71 119.73,474.94 120.55,476.04 C121.37,477.13 121.95,482.02 122.89,478.95 C123.83,475.87 125.06,463.03 126.17,457.58 C127.28,452.12 128.47,449.55 129.57,446.20 C130.66,442.84 131.79,438.29 132.73,437.47 C133.66,436.65 134.21,438.17 135.19,441.26 C136.16,444.36 137.35,451.42 138.58,456.06 C139.81,460.70 141.49,465.82 142.56,469.08 C143.63,472.35 144.20,472.39 145.02,475.66 C145.84,478.93 146.52,484.87 147.48,488.68 C148.44,492.50 149.78,496.33 150.76,498.55 C151.73,500.76 152.51,501.14 153.33,501.96 C154.15,502.78 154.87,503.77 155.68,503.48 C156.48,503.18 157.31,503.73 158.13,500.19 C158.95,496.65 159.64,488.79 160.59,482.23 C161.55,475.68 162.78,468.49 163.87,460.86 C164.96,453.23 166.21,441.35 167.15,436.46 C168.09,431.57 168.67,431.53 169.49,431.53 C170.31,431.53 171.23,434.01 172.07,436.46 C172.91,438.90 173.74,443.75 174.53,446.20 C175.31,448.64 175.83,449.63 176.75,451.13 C177.67,452.62 178.94,452.18 180.03,455.17 C181.12,458.17 182.35,465.94 183.31,469.08 C184.26,472.22 184.95,473.47 185.77,474.01 C186.59,474.56 187.39,472.03 188.22,472.37 C189.06,472.71 189.98,474.94 190.80,476.04 C191.62,477.13 192.20,482.02 193.14,478.95 C194.08,475.87 195.31,463.03 196.42,457.58 C197.53,452.12 198.72,449.55 199.82,446.20 C200.91,442.84 202.04,438.29 202.98,437.47 C203.91,436.65 204.46,438.17 205.44,441.26 C206.41,444.36 207.60,451.42 208.83,456.06 C210.06,460.70 211.74,465.82 212.81,469.08 C213.88,472.35 214.45,472.39 215.27,475.66 C216.09,478.93 216.77,484.87 217.73,488.68 C218.69,492.50 220.03,496.33 221.01,498.55 C221.98,500.76 222.76,501.14 223.58,501.96 C224.40,502.78 225.12,503.77 225.93,503.48 C226.73,503.18 227.56,503.73 228.38,500.19 C229.20,496.65 229.89,488.79 230.84,482.23 C231.80,475.68 233.03,468.49 234.12,460.86 C235.21,453.23 236.46,441.35 237.40,436.46 C238.34,431.57 238.92,431.53 239.74,431.53 C240.56,431.53 241.48,434.01 242.32,436.46 C243.16,438.90 243.99,443.75 244.78,446.20 C245.56,448.64 246.08,449.63 247.00,451.13 C247.92,452.62 249.19,452.18 250.28,455.17 C251.37,458.17 252.60,465.94 253.56,469.08 C254.51,472.22 255.20,473.47 256.02,474.01 C256.84,474.56 257.64,472.03 258.47,472.37 C259.31,472.71 260.23,474.94 261.05,476.04 C261.87,477.13 262.45,482.02 263.39,478.95 C264.33,475.87 265.56,463.03 266.67,457.58 C267.78,452.12 268.97,449.55 270.07,446.20 C271.16,442.84 272.29,438.29 273.23,437.47 C274.16,436.65 274.71,438.17 275.69,441.26 C276.66,444.36 277.85,451.42 279.08,456.06 C280.31,460.70 281.99,465.82 283.06,469.08 C284.13,472.35 284.70,472.39 285.52,475.66 C286.34,478.93 287.02,484.87 287.98,488.68 C288.94,492.50 290.28,496.33 291.26,498.55 C292.23,500.76 293.01,501.14 293.83,501.96 C294.65,502.78 295.37,503.77 296.18,503.48 C296.98,503.18 297.81,503.73 298.63,500.19 C299.45,496.65 300.14,488.79 301.09,482.23 C302.05,475.68 303.28,468.49 304.37,460.86 C305.46,453.23 306.71,441.35 307.65,436.46 C308.59,431.57 309.17,431.53 309.99,431.53 C310.81,431.53 311.73,434.01 312.57,436.46 C313.41,438.90 314.24,443.75 315.03,446.20 C315.81,448.64 316.33,449.63 317.25,451.13 C318.17,452.62 319.44,452.18 320.53,455.17 C321.62,458.17 322.85,465.94 323.81,469.08 C324.76,472.22 325.45,473.47 326.27,474.01 C327.08,474.56 327.89,472.03 328.72,472.37 C329.56,472.71 330.48,474.94 331.30,476.04 C332.12,477.13 332.70,482.02 333.64,478.95 C334.58,475.87 335.81,463.03 336.92,457.58 C338.03,452.12 339.22,449.55 340.32,446.20 C341.41,442.84 342.54,438.29 343.48,437.47 C344.41,436.65 344.96,438.17 345.94,441.26 C346.91,444.36 348.10,451.42 349.33,456.06 C350.56,460.70 352.24,465.82 353.31,469.08 C354.38,472.35 354.95,472.39 355.77,475.66 C356.59,478.93 357.27,484.87 358.23,488.68 C359.19,492.50 360.53,496.33 361.51,498.55 C362.48,500.76 363.26,501.14 364.08,501.96 C364.90,502.78 365.62,503.77 366.43,503.48 C367.23,503.18 368.06,503.73 368.88,500.19 C369.70,496.65 370.39,488.79 371.34,482.23 C372.30,475.68 373.53,468.49 374.62,460.86 C375.71,453.23 376.96,441.35 377.90,436.46 C378.84,431.57 379.42,431.53 380.24,431.53 C381.06,431.53 381.98,434.01 382.82,436.46 C383.66,438.90 384.49,443.75 385.28,446.20 C386.06,448.64 386.58,449.63 387.50,451.13 C388.42,452.62 389.69,452.18 390.78,455.17 C391.87,458.17 393.10,465.94 394.06,469.08 C395.01,472.22 395.70,473.47 396.52,474.01 C397.33,474.56 398.14,472.03 398.97,472.37 C399.81,472.71 400.73,474.94 401.55,476.04 C402.37,477.13 402.95,482.02 403.89,478.95 C404.83,475.87 406.06,463.03 407.17,457.58 C408.28,452.12 409.47,449.55 410.57,446.20 C411.66,442.84 412.79,438.29 413.73,437.47 C414.66,436.65 415.21,438.17 416.19,441.26 C417.16,444.36 418.35,451.42 419.58,456.06 C420.81,460.70 422.49,465.82 423.56,469.08 C424.63,472.35 425.20,472.39 426.02,475.66 C426.84,478.93 427.52,484.87 428.48,488.68 C429.44,492.50 430.78,496.33 431.76,498.55 C432.73,500.76 433.51,501.14 434.33,501.96 C435.15,502.78 435.87,503.77 436.68,503.48 C437.48,503.18 438.31,503.73 439.13,500.19 C439.95,496.65 440.64,488.79 441.59,482.23 C442.55,475.68 443.78,468.49 444.87,460.86 C445.96,453.23 447.21,441.35 448.15,436.46 C449.09,431.57 449.67,431.53 450.49,431.53 C451.31,431.53 452.23,434.01 453.07,436.46 C453.91,438.90 454.74,443.75 455.53,446.20 C456.31,448.64 456.83,449.63 457.75,451.13 C458.67,452.62 459.94,452.18 461.03,455.17 C462.12,458.17 463.35,465.94 464.31,469.08 C465.26,472.22 465.95,473.47 466.77,474.01 C467.58,474.56 468.39,472.03 469.22,472.37 C470.06,472.71 470.98,474.94 471.80,476.04 C472.62,477.13 473.20,482.02 474.14,478.95 C475.08,475.87 476.31,463.03 477.42,457.58 C478.53,452.12 479.72,449.55 480.82,446.20 C481.91,442.84 483.04,438.29 483.98,437.47 C484.91,436.65 485.46,438.17 486.44,441.26 C487.41,444.36 488.60,451.42 489.83,456.06 C491.06,460.70 492.74,465.82 493.81,469.08 C494.88,472.35 495.45,472.39 496.27,475.66 C497.09,478.93 497.77,484.87 498.73,488.68 C499.69,492.50 501.03,496.33 502.01,498.55 C502.98,500.76 503.76,501.14 504.58,501.96 C505.40,502.78 506.12,503.77 506.93,503.48 C507.73,503.18 508.56,503.73 509.38,500.19 C510.20,496.65 510.89,488.79 511.84,482.23 C512.80,475.68 514.03,468.49 515.12,460.86 C516.21,453.23 517.46,441.35 518.40,436.46 C519.34,431.57 519.92,431.53 520.74,431.53 C521.56,431.53 522.48,434.01 523.32,436.46 C524.16,438.90 524.99,443.75 525.78,446.20 C526.56,448.64 527.63,450.31 528.00,451.13" fill="none" stroke="#00b050" stroke-width="4.2" stroke-linejoin="round" stroke-linecap="round"/>
<g fill="#00b050"><circle cx="106.5" cy="451.1" r="2.5"/><circle cx="107.7" cy="452.1" r="2.5"/><circle cx="108.8" cy="453.3" r="2.5"/><circle cx="110.0" cy="455.9" r="2.5"/><circle cx="111.2" cy="460.7" r="2.5"/><circle cx="112.4" cy="466.3" r="2.5"/><circle cx="113.5" cy="470.5" r="2.5"/><circle cx="114.7" cy="473.1" r="2.5"/><circle cx="115.9" cy="474.1" r="2.5"/><circle cx="117.0" cy="472.9" r="2.5"/><circle cx="118.2" cy="472.5" r="2.5"/><circle cx="119.4" cy="474.1" r="2.5"/><circle cx="120.5" cy="476.0" r="2.5"/><circle cx="121.7" cy="479.2" r="2.5"/><circle cx="122.9" cy="478.9" r="2.5"/><circle cx="124.1" cy="472.2" r="2.5"/><circle cx="125.2" cy="463.4" r="2.5"/><circle cx="126.4" cy="456.5" r="2.5"/><circle cx="127.6" cy="452.0" r="2.5"/><circle cx="128.7" cy="448.6" r="2.5"/><circle cx="129.9" cy="445.1" r="2.5"/><circle cx="131.1" cy="441.3" r="2.5"/><circle cx="132.3" cy="438.1" r="2.5"/><circle cx="133.4" cy="437.3" r="2.5"/><circle cx="134.6" cy="439.5" r="2.5"/><circle cx="135.8" cy="443.4" r="2.5"/><circle cx="136.9" cy="448.8" r="2.5"/><circle cx="138.1" cy="454.2" r="2.5"/><circle cx="139.3" cy="458.6" r="2.5"/><circle cx="140.5" cy="462.5" r="2.5"/><circle cx="141.6" cy="466.2" r="2.5"/><circle cx="142.8" cy="469.8" r="2.5"/><circle cx="144.0" cy="472.5" r="2.5"/><circle cx="145.1" cy="476.1" r="2.5"/><circle cx="146.3" cy="482.6" r="2.5"/><circle cx="147.5" cy="488.7" r="2.5"/><circle cx="148.7" cy="492.8" r="2.5"/><circle cx="149.8" cy="496.2" r="2.5"/><circle cx="151.0" cy="499.0" r="2.5"/><circle cx="152.2" cy="500.8" r="2.5"/><circle cx="153.3" cy="502.0" r="2.5"/><circle cx="154.5" cy="503.1" r="2.5"/><circle cx="155.7" cy="503.5" r="2.5"/><circle cx="156.8" cy="503.1" r="2.5"/><circle cx="158.0" cy="500.7" r="2.5"/><circle cx="159.2" cy="493.4" r="2.5"/><circle cx="160.4" cy="483.9" r="2.5"/><circle cx="161.5" cy="476.1" r="2.5"/><circle cx="162.7" cy="468.6" r="2.5"/><circle cx="163.9" cy="460.9" r="2.5"/><circle cx="165.0" cy="451.9" r="2.5"/><circle cx="166.2" cy="442.6" r="2.5"/><circle cx="167.4" cy="435.3" r="2.5"/><circle cx="168.6" cy="431.9" r="2.5"/><circle cx="169.7" cy="431.6" r="2.5"/><circle cx="170.9" cy="433.3" r="2.5"/><circle cx="172.1" cy="436.5" r="2.5"/><circle cx="173.2" cy="441.0" r="2.5"/><circle cx="174.4" cy="445.8" r="2.5"/><circle cx="175.6" cy="449.0" r="2.5"/><circle cx="176.8" cy="451.1" r="2.5"/><circle cx="177.9" cy="452.3" r="2.5"/><circle cx="179.1" cy="453.4" r="2.5"/><circle cx="180.3" cy="455.9" r="2.5"/><circle cx="181.4" cy="460.7" r="2.5"/><circle cx="182.6" cy="466.3" r="2.5"/><circle cx="183.8" cy="470.5" r="2.5"/><circle cx="184.9" cy="473.1" r="2.5"/><circle cx="186.1" cy="474.1" r="2.5"/><circle cx="187.3" cy="472.9" r="2.5"/><circle cx="188.5" cy="472.5" r="2.5"/><circle cx="189.6" cy="474.1" r="2.5"/><circle cx="190.8" cy="476.0" r="2.5"/><circle cx="192.0" cy="479.2" r="2.5"/><circle cx="193.1" cy="478.9" r="2.5"/><circle cx="194.3" cy="472.2" r="2.5"/><circle cx="195.5" cy="463.4" r="2.5"/><circle cx="196.7" cy="456.5" r="2.5"/><circle cx="197.8" cy="452.0" r="2.5"/><circle cx="199.0" cy="448.6" r="2.5"/><circle cx="200.2" cy="445.1" r="2.5"/><circle cx="201.3" cy="441.3" r="2.5"/><circle cx="202.5" cy="438.1" r="2.5"/><circle cx="203.7" cy="437.3" r="2.5"/><circle cx="204.8" cy="439.5" r="2.5"/><circle cx="206.0" cy="443.4" r="2.5"/><circle cx="207.2" cy="448.8" r="2.5"/><circle cx="208.4" cy="454.2" r="2.5"/><circle cx="209.5" cy="458.6" r="2.5"/><circle cx="210.7" cy="462.5" r="2.5"/><circle cx="211.9" cy="466.2" r="2.5"/><circle cx="213.0" cy="469.8" r="2.5"/><circle cx="214.2" cy="472.5" r="2.5"/><circle cx="215.4" cy="476.1" r="2.5"/><circle cx="216.6" cy="482.6" r="2.5"/><circle cx="217.7" cy="488.7" r="2.5"/><circle cx="218.9" cy="492.8" r="2.5"/><circle cx="220.1" cy="496.2" r="2.5"/><circle cx="221.2" cy="499.0" r="2.5"/><circle cx="222.4" cy="500.8" r="2.5"/><circle cx="223.6" cy="502.0" r="2.5"/><circle cx="224.8" cy="503.1" r="2.5"/><circle cx="225.9" cy="503.5" r="2.5"/><circle cx="227.1" cy="503.1" r="2.5"/><circle cx="228.3" cy="500.7" r="2.5"/><circle cx="229.4" cy="493.4" r="2.5"/><circle cx="230.6" cy="483.9" r="2.5"/><circle cx="231.8" cy="476.1" r="2.5"/><circle cx="232.9" cy="468.6" r="2.5"/><circle cx="234.1" cy="460.9" r="2.5"/><circle cx="235.3" cy="451.9" r="2.5"/><circle cx="236.5" cy="442.6" r="2.5"/><circle cx="237.6" cy="435.3" r="2.5"/><circle cx="238.8" cy="431.9" r="2.5"/><circle cx="240.0" cy="431.6" r="2.5"/><circle cx="241.1" cy="433.3" r="2.5"/><circle cx="242.3" cy="436.5" r="2.5"/><circle cx="243.5" cy="441.0" r="2.5"/><circle cx="244.7" cy="445.8" r="2.5"/><circle cx="245.8" cy="449.0" r="2.5"/><circle cx="247.0" cy="451.1" r="2.5"/><circle cx="248.2" cy="452.3" r="2.5"/><circle cx="249.3" cy="453.4" r="2.5"/><circle cx="250.5" cy="455.9" r="2.5"/><circle cx="251.7" cy="460.7" r="2.5"/><circle cx="252.9" cy="466.3" r="2.5"/><circle cx="254.0" cy="470.5" r="2.5"/><circle cx="255.2" cy="473.1" r="2.5"/><circle cx="256.4" cy="474.1" r="2.5"/><circle cx="257.5" cy="472.9" r="2.5"/><circle cx="258.7" cy="472.5" r="2.5"/><circle cx="259.9" cy="474.1" r="2.5"/><circle cx="261.1" cy="476.0" r="2.5"/><circle cx="262.2" cy="479.2" r="2.5"/><circle cx="263.4" cy="478.9" r="2.5"/><circle cx="264.6" cy="472.2" r="2.5"/><circle cx="265.7" cy="463.4" r="2.5"/><circle cx="266.9" cy="456.5" r="2.5"/><circle cx="268.1" cy="452.0" r="2.5"/><circle cx="269.2" cy="448.6" r="2.5"/><circle cx="270.4" cy="445.1" r="2.5"/><circle cx="271.6" cy="441.3" r="2.5"/><circle cx="272.8" cy="438.1" r="2.5"/><circle cx="273.9" cy="437.3" r="2.5"/><circle cx="275.1" cy="439.5" r="2.5"/><circle cx="276.3" cy="443.4" r="2.5"/><circle cx="277.4" cy="448.8" r="2.5"/><circle cx="278.6" cy="454.2" r="2.5"/><circle cx="279.8" cy="458.6" r="2.5"/><circle cx="281.0" cy="462.5" r="2.5"/><circle cx="282.1" cy="466.2" r="2.5"/><circle cx="283.3" cy="469.8" r="2.5"/><circle cx="284.5" cy="472.5" r="2.5"/><circle cx="285.6" cy="476.1" r="2.5"/><circle cx="286.8" cy="482.6" r="2.5"/><circle cx="288.0" cy="488.7" r="2.5"/><circle cx="289.1" cy="492.8" r="2.5"/><circle cx="290.3" cy="496.2" r="2.5"/><circle cx="291.5" cy="499.0" r="2.5"/><circle cx="292.7" cy="500.8" r="2.5"/><circle cx="293.8" cy="502.0" r="2.5"/><circle cx="295.0" cy="503.1" r="2.5"/><circle cx="296.2" cy="503.5" r="2.5"/><circle cx="297.3" cy="503.1" r="2.5"/><circle cx="298.5" cy="500.7" r="2.5"/><circle cx="299.7" cy="493.4" r="2.5"/><circle cx="300.9" cy="483.9" r="2.5"/><circle cx="302.0" cy="476.1" r="2.5"/><circle cx="303.2" cy="468.6" r="2.5"/><circle cx="304.4" cy="460.9" r="2.5"/><circle cx="305.5" cy="451.9" r="2.5"/><circle cx="306.7" cy="442.6" r="2.5"/><circle cx="307.9" cy="435.3" r="2.5"/><circle cx="309.1" cy="431.9" r="2.5"/><circle cx="310.2" cy="431.6" r="2.5"/><circle cx="311.4" cy="433.3" r="2.5"/><circle cx="312.6" cy="436.5" r="2.5"/><circle cx="313.7" cy="441.0" r="2.5"/><circle cx="314.9" cy="445.8" r="2.5"/><circle cx="316.1" cy="449.0" r="2.5"/><circle cx="317.2" cy="451.1" r="2.5"/><circle cx="318.4" cy="452.3" r="2.5"/><circle cx="319.6" cy="453.4" r="2.5"/><circle cx="320.8" cy="455.9" r="2.5"/><circle cx="321.9" cy="460.7" r="2.5"/><circle cx="323.1" cy="466.3" r="2.5"/><circle cx="324.3" cy="470.5" r="2.5"/><circle cx="325.4" cy="473.1" r="2.5"/><circle cx="326.6" cy="474.1" r="2.5"/><circle cx="327.8" cy="472.9" r="2.5"/><circle cx="329.0" cy="472.5" r="2.5"/><circle cx="330.1" cy="474.1" r="2.5"/><circle cx="331.3" cy="476.0" r="2.5"/><circle cx="332.5" cy="479.2" r="2.5"/><circle cx="333.6" cy="478.9" r="2.5"/><circle cx="334.8" cy="472.2" r="2.5"/><circle cx="336.0" cy="463.4" r="2.5"/><circle cx="337.2" cy="456.5" r="2.5"/><circle cx="338.3" cy="452.0" r="2.5"/><circle cx="339.5" cy="448.6" r="2.5"/><circle cx="340.7" cy="445.1" r="2.5"/><circle cx="341.8" cy="441.3" r="2.5"/><circle cx="343.0" cy="438.1" r="2.5"/><circle cx="344.2" cy="437.3" r="2.5"/><circle cx="345.4" cy="439.5" r="2.5"/><circle cx="346.5" cy="443.4" r="2.5"/><circle cx="347.7" cy="448.8" r="2.5"/><circle cx="348.9" cy="454.2" r="2.5"/><circle cx="350.0" cy="458.6" r="2.5"/><circle cx="351.2" cy="462.5" r="2.5"/><circle cx="352.4" cy="466.2" r="2.5"/><circle cx="353.5" cy="469.8" r="2.5"/><circle cx="354.7" cy="472.5" r="2.5"/><circle cx="355.9" cy="476.1" r="2.5"/><circle cx="357.1" cy="482.6" r="2.5"/><circle cx="358.2" cy="488.7" r="2.5"/><circle cx="359.4" cy="492.8" r="2.5"/><circle cx="360.6" cy="496.2" r="2.5"/><circle cx="361.7" cy="499.0" r="2.5"/><circle cx="362.9" cy="500.8" r="2.5"/><circle cx="364.1" cy="502.0" r="2.5"/><circle cx="365.3" cy="503.1" r="2.5"/><circle cx="366.4" cy="503.5" r="2.5"/><circle cx="367.6" cy="503.1" r="2.5"/><circle cx="368.8" cy="500.7" r="2.5"/><circle cx="369.9" cy="493.4" r="2.5"/><circle cx="371.1" cy="483.9" r="2.5"/><circle cx="372.3" cy="476.1" r="2.5"/><circle cx="373.4" cy="468.6" r="2.5"/><circle cx="374.6" cy="460.9" r="2.5"/><circle cx="375.8" cy="451.9" r="2.5"/><circle cx="377.0" cy="442.6" r="2.5"/><circle cx="378.1" cy="435.3" r="2.5"/><circle cx="379.3" cy="431.9" r="2.5"/><circle cx="380.5" cy="431.6" r="2.5"/><circle cx="381.6" cy="433.3" r="2.5"/><circle cx="382.8" cy="436.5" r="2.5"/><circle cx="384.0" cy="441.0" r="2.5"/><circle cx="385.2" cy="445.8" r="2.5"/><circle cx="386.3" cy="449.0" r="2.5"/><circle cx="387.5" cy="451.1" r="2.5"/><circle cx="388.7" cy="452.3" r="2.5"/><circle cx="389.8" cy="453.4" r="2.5"/><circle cx="391.0" cy="455.9" r="2.5"/><circle cx="392.2" cy="460.7" r="2.5"/><circle cx="393.4" cy="466.3" r="2.5"/><circle cx="394.5" cy="470.5" r="2.5"/><circle cx="395.7" cy="473.1" r="2.5"/><circle cx="396.9" cy="474.1" r="2.5"/><circle cx="398.0" cy="472.9" r="2.5"/><circle cx="399.2" cy="472.5" r="2.5"/><circle cx="400.4" cy="474.1" r="2.5"/><circle cx="401.6" cy="476.0" r="2.5"/><circle cx="402.7" cy="479.2" r="2.5"/><circle cx="403.9" cy="478.9" r="2.5"/><circle cx="405.1" cy="472.2" r="2.5"/><circle cx="406.2" cy="463.4" r="2.5"/><circle cx="407.4" cy="456.5" r="2.5"/><circle cx="408.6" cy="452.0" r="2.5"/><circle cx="409.7" cy="448.6" r="2.5"/><circle cx="410.9" cy="445.1" r="2.5"/><circle cx="412.1" cy="441.3" r="2.5"/><circle cx="413.3" cy="438.1" r="2.5"/><circle cx="414.4" cy="437.3" r="2.5"/><circle cx="415.6" cy="439.5" r="2.5"/><circle cx="416.8" cy="443.4" r="2.5"/><circle cx="417.9" cy="448.8" r="2.5"/><circle cx="419.1" cy="454.2" r="2.5"/><circle cx="420.3" cy="458.6" r="2.5"/><circle cx="421.5" cy="462.5" r="2.5"/><circle cx="422.6" cy="466.2" r="2.5"/><circle cx="423.8" cy="469.8" r="2.5"/><circle cx="425.0" cy="472.5" r="2.5"/><circle cx="426.1" cy="476.1" r="2.5"/><circle cx="427.3" cy="482.6" r="2.5"/><circle cx="428.5" cy="488.7" r="2.5"/><circle cx="429.6" cy="492.8" r="2.5"/><circle cx="430.8" cy="496.2" r="2.5"/><circle cx="432.0" cy="499.0" r="2.5"/><circle cx="433.2" cy="500.8" r="2.5"/><circle cx="434.3" cy="502.0" r="2.5"/><circle cx="435.5" cy="503.1" r="2.5"/><circle cx="436.7" cy="503.5" r="2.5"/><circle cx="437.8" cy="503.1" r="2.5"/><circle cx="439.0" cy="500.7" r="2.5"/><circle cx="440.2" cy="493.4" r="2.5"/><circle cx="441.4" cy="483.9" r="2.5"/><circle cx="442.5" cy="476.1" r="2.5"/><circle cx="443.7" cy="468.6" r="2.5"/><circle cx="444.9" cy="460.9" r="2.5"/><circle cx="446.0" cy="451.9" r="2.5"/><circle cx="447.2" cy="442.6" r="2.5"/><circle cx="448.4" cy="435.3" r="2.5"/><circle cx="449.6" cy="431.9" r="2.5"/><circle cx="450.7" cy="431.6" r="2.5"/><circle cx="451.9" cy="433.3" r="2.5"/><circle cx="453.1" cy="436.5" r="2.5"/><circle cx="454.2" cy="441.0" r="2.5"/><circle cx="455.4" cy="445.8" r="2.5"/><circle cx="456.6" cy="449.0" r="2.5"/><circle cx="457.8" cy="451.1" r="2.5"/><circle cx="458.9" cy="452.3" r="2.5"/><circle cx="460.1" cy="453.4" r="2.5"/><circle cx="461.3" cy="455.9" r="2.5"/><circle cx="462.4" cy="460.7" r="2.5"/><circle cx="463.6" cy="466.3" r="2.5"/><circle cx="464.8" cy="470.5" r="2.5"/><circle cx="465.9" cy="473.1" r="2.5"/><circle cx="467.1" cy="474.1" r="2.5"/><circle cx="468.3" cy="472.9" r="2.5"/><circle cx="469.5" cy="472.5" r="2.5"/><circle cx="470.6" cy="474.1" r="2.5"/><circle cx="471.8" cy="476.0" r="2.5"/><circle cx="473.0" cy="479.2" r="2.5"/><circle cx="474.1" cy="478.9" r="2.5"/><circle cx="475.3" cy="472.2" r="2.5"/><circle cx="476.5" cy="463.4" r="2.5"/><circle cx="477.7" cy="456.5" r="2.5"/><circle cx="478.8" cy="452.0" r="2.5"/><circle cx="480.0" cy="448.6" r="2.5"/><circle cx="481.2" cy="445.1" r="2.5"/><circle cx="482.3" cy="441.3" r="2.5"/><circle cx="483.5" cy="438.1" r="2.5"/><circle cx="484.7" cy="437.3" r="2.5"/><circle cx="485.9" cy="439.5" r="2.5"/><circle cx="487.0" cy="443.4" r="2.5"/><circle cx="488.2" cy="448.8" r="2.5"/><circle cx="489.4" cy="454.2" r="2.5"/><circle cx="490.5" cy="458.6" r="2.5"/><circle cx="491.7" cy="462.5" r="2.5"/><circle cx="492.9" cy="466.2" r="2.5"/><circle cx="494.0" cy="469.8" r="2.5"/><circle cx="495.2" cy="472.5" r="2.5"/><circle cx="496.4" cy="476.1" r="2.5"/><circle cx="497.6" cy="482.6" r="2.5"/><circle cx="498.7" cy="488.7" r="2.5"/><circle cx="499.9" cy="492.8" r="2.5"/><circle cx="501.1" cy="496.2" r="2.5"/><circle cx="502.2" cy="499.0" r="2.5"/><circle cx="503.4" cy="500.8" r="2.5"/><circle cx="504.6" cy="502.0" r="2.5"/><circle cx="505.8" cy="503.1" r="2.5"/><circle cx="506.9" cy="503.5" r="2.5"/><circle cx="508.1" cy="503.1" r="2.5"/><circle cx="509.3" cy="500.7" r="2.5"/><circle cx="510.4" cy="493.4" r="2.5"/><circle cx="511.6" cy="483.9" r="2.5"/><circle cx="512.8" cy="476.1" r="2.5"/><circle cx="514.0" cy="468.6" r="2.5"/><circle cx="515.1" cy="460.9" r="2.5"/><circle cx="516.3" cy="451.9" r="2.5"/><circle cx="517.5" cy="442.6" r="2.5"/><circle cx="518.6" cy="435.3" r="2.5"/><circle cx="519.8" cy="431.9" r="2.5"/><circle cx="521.0" cy="431.6" r="2.5"/><circle cx="522.1" cy="433.3" r="2.5"/><circle cx="523.3" cy="436.5" r="2.5"/><circle cx="524.5" cy="441.0" r="2.5"/><circle cx="525.7" cy="445.8" r="2.5"/><circle cx="526.8" cy="448.8" r="2.5"/><circle cx="528.0" cy="451.1" r="2.5"/></g>
<text x="93.8" y="678.1" font-size="14.2" fill="#595959" stroke="#595959" text-anchor="end">100</text>
<text x="93.8" y="652.8" font-size="14.2" fill="#595959" stroke="#595959" text-anchor="end">120</text>
<text x="93.8" y="627.5" font-size="14.2" fill="#595959" stroke="#595959" text-anchor="end">140</text>
<text x="93.8" y="602.2" font-size="14.2" fill="#595959" stroke="#595959" text-anchor="end">160</text>
<text x="93.8" y="576.9" font-size="14.2" fill="#595959" stroke="#595959" text-anchor="end">180</text>
<text x="93.8" y="551.6" font-size="14.2" fill="#595959" stroke="#595959" text-anchor="end">200</text>
<text x="93.8" y="526.4" font-size="14.2" fill="#595959" stroke="#595959" text-anchor="end">220</text>
<text x="93.8" y="501.1" font-size="14.2" fill="#595959" stroke="#595959" text-anchor="end">240</text>
<text x="93.8" y="475.8" font-size="14.2" fill="#595959" stroke="#595959" text-anchor="end">260</text>
<text x="93.8" y="450.5" font-size="14.2" fill="#595959" stroke="#595959" text-anchor="end">280</text>
<text x="93.8" y="425.2" font-size="14.2" fill="#595959" stroke="#595959" text-anchor="end">300</text>
<text x="106.5" y="695.1" font-size="14.2" fill="#595959" stroke="#595959" text-anchor="middle">0</text>
<text x="176.8" y="695.1" font-size="14.2" fill="#595959" stroke="#595959" text-anchor="middle">60</text>
<text x="247.0" y="695.1" font-size="14.2" fill="#595959" stroke="#595959" text-anchor="middle">120</text>
<text x="317.2" y="695.1" font-size="14.2" fill="#595959" stroke="#595959" text-anchor="middle">180</text>
<text x="387.5" y="695.1" font-size="14.2" fill="#595959" stroke="#595959" text-anchor="middle">240</text>
<text x="457.8" y="695.1" font-size="14.2" fill="#595959" stroke="#595959" text-anchor="middle">300</text>
<text x="528.0" y="695.1" font-size="14.2" fill="#595959" stroke="#595959" text-anchor="middle">360</text>
<text x="284.0" y="712.2" font-size="14.2" fill="#595959" stroke="#595959" text-anchor="middle" textLength="132.0" lengthAdjust="spacingAndGlyphs">Electrical angle [Deg]</text>
<text transform="translate(57.3,536.65) rotate(-90)" font-size="14.2" fill="#595959" stroke="#595959" text-anchor="middle" textLength="181.7" lengthAdjust="spacingAndGlyphs">Electromagnetic Torque [Nm]</text>
<line x1="177.6" y1="399" x2="197.5" y2="399" stroke="#4a8fd8" stroke-width="2.4"/>
<text x="199.3" y="403.8" font-size="14.2" fill="#595959" stroke="#595959" textLength="72.5" lengthAdjust="spacingAndGlyphs">Basic model</text>
<line x1="278.9" y1="399" x2="299.8" y2="399" stroke="#c00000" stroke-width="2.4" stroke-dasharray="5 3"/>
<text x="302.0" y="403.8" font-size="14.2" fill="#595959" stroke="#595959" textLength="46.3" lengthAdjust="spacingAndGlyphs">Model 2</text>
<line x1="356.5" y1="399" x2="375.8" y2="399" stroke="#00b050" stroke-width="2.4"/><circle cx="366.2" cy="399" r="2.2" fill="#00b050"/>
<text x="377.6" y="403.8" font-size="14.2" fill="#595959" stroke="#595959" textLength="48.4" lengthAdjust="spacingAndGlyphs">Model 3</text>
<text x="284.1" y="747.2" font-size="21.6" text-anchor="middle" style="font-weight:normal"><tspan>(</tspan><tspan font-weight="bold">b</tspan><tspan>)</tspan></text>
</svg></body></html>
